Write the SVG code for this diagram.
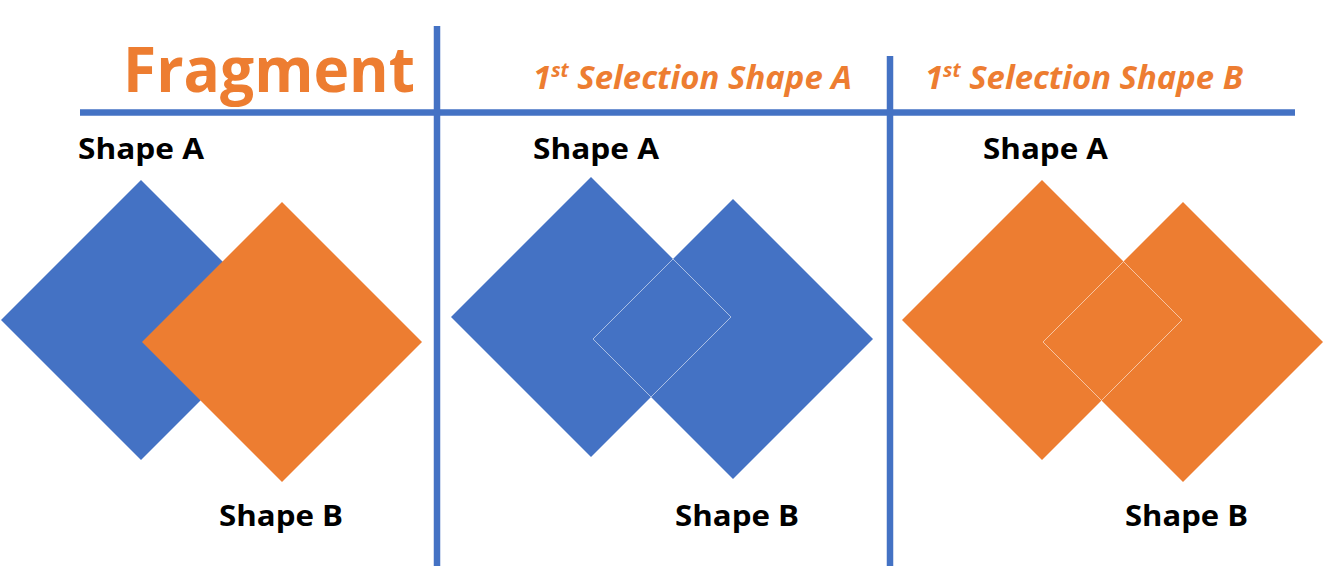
<svg xmlns="http://www.w3.org/2000/svg" width="1324" height="566" viewBox="0 0 1324 566">
  <style>
    .blue { fill: #4472C4; }
    .orange { fill: #ED7D31; }
    .divider { stroke: #4472C4; stroke-width: 6.5; fill: none; }
    .frag { fill: none; stroke: #FFFFFF; stroke-opacity: 0.55; stroke-width: 1; }
    .label { font-family: "Open Sans", "Liberation Sans", sans-serif; font-weight: bold; font-size: 29px; fill: #000000; }
    .head { font-family: "Open Sans", "Liberation Sans", sans-serif; font-weight: bold; font-style: italic; font-size: 33px; fill: #ED7D31; }
    .title { font-family: "Open Sans", "Liberation Sans", sans-serif; font-weight: bold; font-size: 63px; fill: #ED7D31; }
  </style>
  <rect width="1324" height="566" fill="#FFFFFF"/>

  <g id="dividers">
    <line class="divider" x1="80" y1="112.5" x2="1295" y2="112.5"/>
    <line class="divider" x1="437" y1="26" x2="437" y2="566"/>
    <line class="divider" x1="890" y1="56" x2="890" y2="566"/>
  </g>

  <g id="headers">
    <text class="title" x="123" y="92" textLength="292" lengthAdjust="spacingAndGlyphs">Fragment</text>
    <text class="head" x="533" y="89" textLength="319" lengthAdjust="spacingAndGlyphs">1<tspan font-size="20" dy="-12">st</tspan><tspan dy="12"> Selection Shape A</tspan></text>
    <text class="head" x="925" y="89" textLength="318" lengthAdjust="spacingAndGlyphs">1<tspan font-size="20" dy="-12">st</tspan><tspan dy="12"> Selection Shape B</tspan></text>
  </g>

  <g id="panel1-shapeA">
    <polygon class="blue" points="141,180 281,320 141,460 1,320"/>
    <text class="label" x="78" y="159" textLength="126" lengthAdjust="spacingAndGlyphs">Shape A</text>
  </g>
  <g id="panel1-shapeB">
    <polygon class="orange" points="282,202 422,342 282,482 142,342"/>
    <text class="label" x="219" y="526" textLength="124" lengthAdjust="spacingAndGlyphs">Shape B</text>
  </g>

  <g id="panel2-shapeA">
    <polygon class="blue" points="591,177 731,317 591,457 451,317"/>
    <text class="label" x="533" y="159" textLength="126" lengthAdjust="spacingAndGlyphs">Shape A</text>
  </g>
  <g id="panel2-shapeB">
    <polygon class="blue" points="733,199 873,339 733,479 593,339"/>
    <text class="label" x="675" y="526" textLength="124" lengthAdjust="spacingAndGlyphs">Shape B</text>
  </g>
  <g id="panel2-fragment">
    <polygon class="frag" points="673,259 731,317 651,397 593,339"/>
  </g>

  <g id="panel3-shapeA">
    <polygon class="orange" points="1042,180 1182,320 1042,460 902,320"/>
    <text class="label" x="983" y="159" textLength="125" lengthAdjust="spacingAndGlyphs">Shape A</text>
  </g>
  <g id="panel3-shapeB">
    <polygon class="orange" points="1183,202 1323,342 1183,482 1043,342"/>
    <text class="label" x="1125" y="526" textLength="123" lengthAdjust="spacingAndGlyphs">Shape B</text>
  </g>
  <g id="panel3-fragment">
    <polygon class="frag" points="1123.5,261.5 1182,320 1101.5,400.5 1043,342"/>
  </g>
</svg>
